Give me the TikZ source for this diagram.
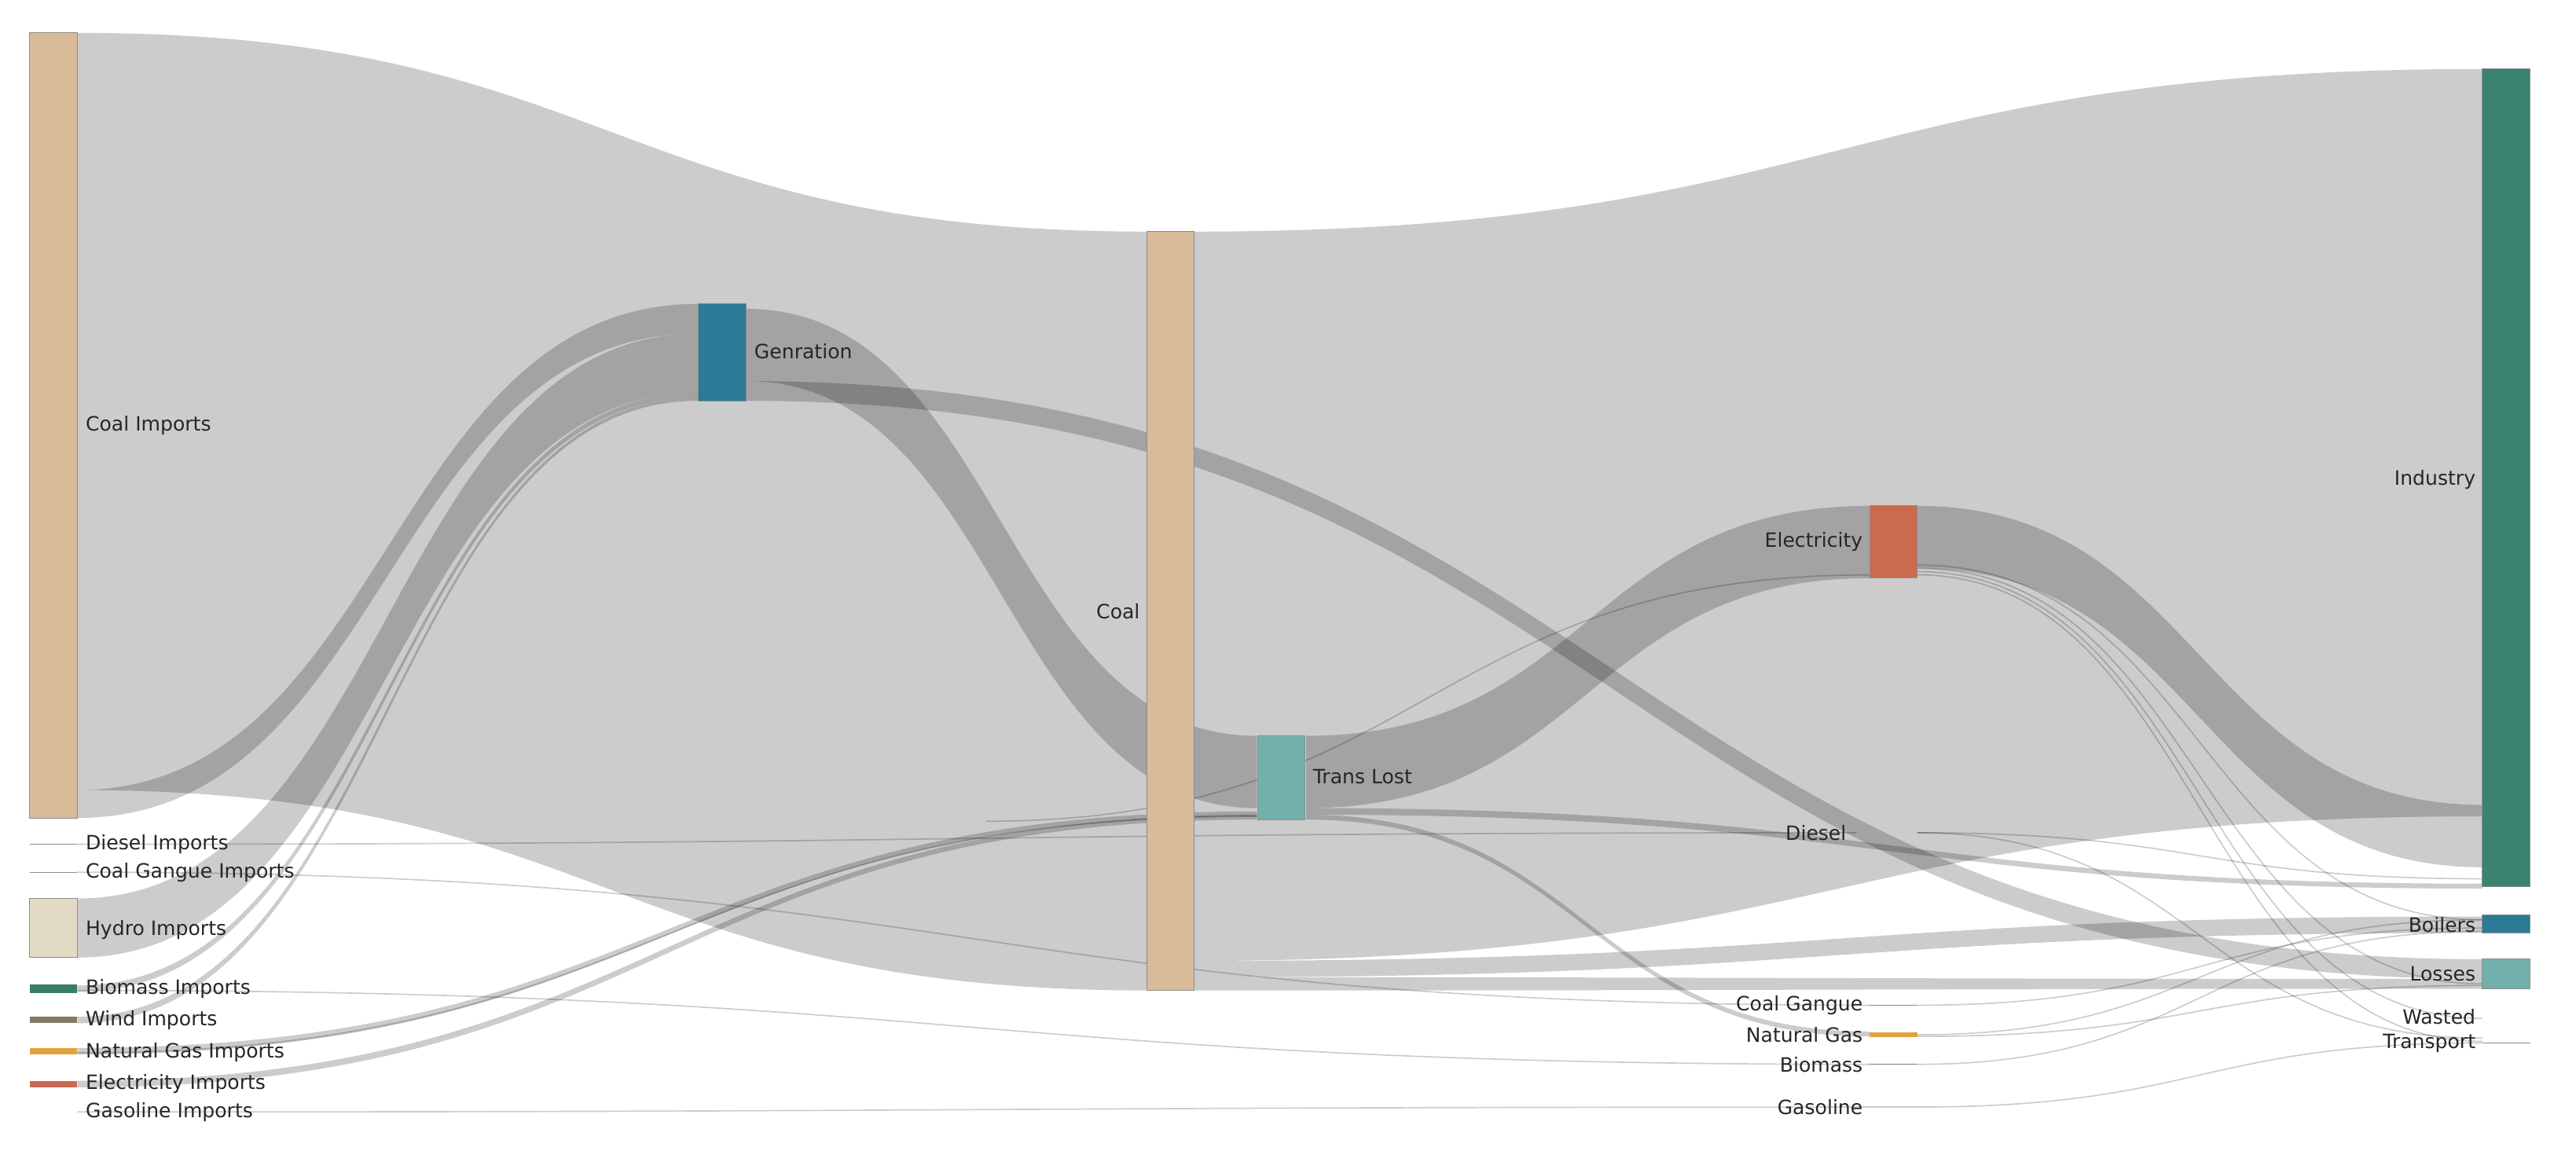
\documentclass[tikz,border=0pt]{standalone}
\usepackage{fontspec}
\setmainfont{DejaVu Sans}
\newcommand\lnk[6]{\fill[linkc] (#1,#2) .. controls ({(#1+#4)/2},#2) and ({(#1+#4)/2},#5) .. (#4,#5) -- (#4,#6) .. controls ({(#1+#4)/2},#6) and ({(#1+#4)/2},#3) .. (#1,#3) -- cycle;}
\newcommand\tln[4]{\draw[thinl] (#1,#2) .. controls ({(#1+#3)/2},#2) and ({(#1+#3)/2},#4) .. (#3,#4);}
\definecolor{tan}{HTML}{D9BB9A}
\definecolor{hydro}{HTML}{E3DAC5}
\definecolor{gen}{HTML}{2B7A96}
\definecolor{trl}{HTML}{72B1AB}
\definecolor{elec}{HTML}{CB6A4D}
\definecolor{ind}{HTML}{3A8371}
\definecolor{bio}{HTML}{3A7D68}
\definecolor{wind}{HTML}{857A60}
\definecolor{ngas}{HTML}{E1A23A}
\definecolor{eimp}{HTML}{C96A55}
\tikzset{linkc/.style={fill=black,opacity=0.2},
thinl/.style={draw=black,opacity=0.2,line width=0.8pt},
bar/.style={draw=black!45,line width=0.5pt},
lab/.style={font=\fontsize{12}{14}\selectfont,text=black!85,inner sep=0pt}}
\begin{document}
\begin{tikzpicture}[x=1pt,y=-1pt]
\useasboundingbox[fill=white] (0,0) rectangle (1568,707);
% big links
\lnk{47}{20}{481}{698}{141}{603}
\lnk{47}{481}{498}{425}{185}{203}
\lnk{47}{547}{583}{425}{203}{239}
\lnk{47}{600}{604}{425}{239}{242}
\lnk{47}{619}{623}{425}{242}{244}
\lnk{727}{141}{585}{1511}{42}{497}
\lnk{454}{188}{232}{765}{448}{492}
\lnk{454}{232}{244}{1511}{584}{596}
\lnk{795}{448}{492}{1138}{308}{352}
\lnk{1167}{308}{346}{1511}{490}{528}
\lnk{727}{585}{595}{1511}{558}{568}
\lnk{727}{595}{603}{1511}{596}{602}
\lnk{47}{638}{642}{765}{494}{497}
\lnk{47}{658}{662}{765}{496}{499}
\lnk{795}{492}{496}{1511}{538}{541}
\lnk{795}{496}{499}{1138}{628}{631}
% thin links
\tln{47}{514}{1130}{507}
\tln{1167}{507}{1511}{535}
\tln{1167}{507}{1511}{632}
\tln{47}{531}{1138}{612}
\tln{47}{603}{1138}{648}
\tln{47}{677}{1167}{674}
\tln{1167}{674}{1511}{635}
\tln{600}{500}{1138}{350}
\tln{47}{641}{765}{497}
\tln{1167}{344}{1511}{560}
\tln{1167}{346}{1511}{599}
\tln{1167}{348}{1511}{620}
\tln{1167}{350}{1511}{634}
\tln{1167}{612}{1511}{565}
\tln{1167}{630}{1511}{560}
\tln{1167}{631}{1511}{600}
\tln{1167}{648}{1511}{567}
% nodes
\node[bar,fill=tan,minimum width=29pt,minimum height=478pt,inner sep=0pt] (coalimp) at (32.5,259) {};
\draw[bar] (18,514) -- (47,514) coordinate (dieselimp);
\draw[bar] (18,531) -- (47,531) coordinate (cgimp);
\node[bar,fill=hydro,minimum width=29pt,minimum height=36pt,inner sep=0pt] (hydroimp) at (32.5,565) {};
\node[fill=bio,minimum width=29pt,minimum height=5pt,inner sep=0pt] (bioimp) at (32.5,602) {};
\node[fill=wind,minimum width=29pt,minimum height=4pt,inner sep=0pt] (windimp) at (32.5,621) {};
\node[fill=ngas,minimum width=29pt,minimum height=4pt,inner sep=0pt] (ngimp) at (32.5,640) {};
\node[fill=eimp,minimum width=29pt,minimum height=4pt,inner sep=0pt] (eimp) at (32.5,660) {};
\node[bar,fill=gen,minimum width=29pt,minimum height=59pt,inner sep=0pt] (gen) at (439.5,214.5) {};
\node[bar,fill=tan,minimum width=29pt,minimum height=462pt,inner sep=0pt] (coal) at (712.5,372) {};
\node[bar,fill=trl,minimum width=29pt,minimum height=51pt,inner sep=0pt] (trans) at (780,473.5) {};
\node[bar,fill=elec,minimum width=29pt,minimum height=44pt,inner sep=0pt] (elec) at (1152.5,330) {};
\node[bar,fill=ind,minimum width=29pt,minimum height=498pt,inner sep=0pt] (ind) at (1525.5,291) {};
\node[bar,fill=gen,minimum width=29pt,minimum height=11pt,inner sep=0pt] (boil) at (1525.5,562.5) {};
\node[bar,fill=trl,minimum width=29pt,minimum height=18pt,inner sep=0pt] (loss) at (1525.5,593) {};
\draw[bar] (1138,612) -- (1167,612) coordinate (cg);
\node[fill=ngas,minimum width=29pt,minimum height=3pt,inner sep=0pt] (ng) at (1152.5,630) {};
\draw[bar,draw=wind] (1138,648) -- (1167,648) coordinate (bio);
\draw[bar] (1511,635) -- (1540,635) coordinate (transp);
% labels
\node[lab,anchor=west] at (52,259) {Coal Imports};
\node[lab,anchor=west] at (52,514) {Diesel Imports};
\node[lab,anchor=west] at (52,531) {Coal Gangue Imports};
\node[lab,anchor=west] at (52,566) {Hydro Imports};
\node[lab,anchor=west] at (52,602) {Biomass Imports};
\node[lab,anchor=west] at (52,621) {Wind Imports};
\node[lab,anchor=west] at (52,641) {Natural Gas Imports};
\node[lab,anchor=west] at (52,660) {Electricity Imports};
\node[lab,anchor=west] at (52,677) {Gasoline Imports};
\node[lab,anchor=west] at (459,214) {Genration};
\node[lab,anchor=east] at (694,372) {Coal};
\node[lab,anchor=west] at (799,473) {Trans Lost};
\node[lab,anchor=east] at (1134,330) {Electricity};
\node[lab,anchor=east] at (1124,507) {Diesel};
\node[lab,anchor=east] at (1134,612) {Coal Gangue};
\node[lab,anchor=east] at (1134,630) {Natural Gas};
\node[lab,anchor=east] at (1134,648) {Biomass};
\node[lab,anchor=east] at (1134,674) {Gasoline};
\node[lab,anchor=east] at (1507,292) {Industry};
\node[lab,anchor=east] at (1507,563) {Boilers};
\node[lab,anchor=east] at (1507,593) {Losses};
\node[lab,anchor=east] at (1507,619) {Wasted};
\node[lab,anchor=east] at (1507,635) {Transport};
\end{tikzpicture}
\end{document}
